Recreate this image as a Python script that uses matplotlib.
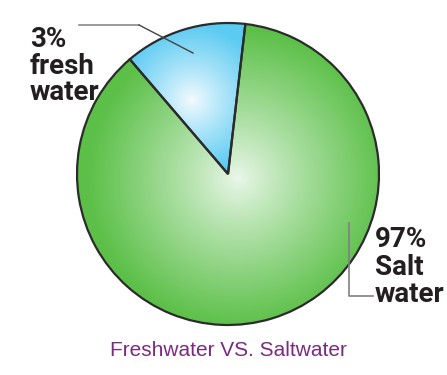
import numpy as np
import matplotlib
matplotlib.use("Agg")
import matplotlib.pyplot as plt
from matplotlib.colors import LinearSegmentedColormap

# Data (wedge sizes; labels as printed)
categories = ["fresh water", "Salt water"]
shares = [13.1, 86.9]
label_texts = [["3%", "fresh", "water"], ["97%", "Salt", "water"]]
title = "Freshwater VS. Saltwater"

W, H = 447, 375
fig = plt.figure(figsize=(W / 100, H / 100), dpi=100)
ax = fig.add_axes([0, 0, 1, 1])

cx, cy, R = 228, 375 - 174, 151
wedges, _ = ax.pie(shares, startangle=83.4, counterclock=True, center=(cx, cy),
                   radius=R, colors=["none", "none"], frame=True,
                   wedgeprops=dict(edgecolor="#2b2b2b", linewidth=1.6))
ax.set_xlim(0, W)
ax.set_ylim(0, H)
ax.set_aspect("auto")
ax.axis("off")

def radial(wedge, gx, gy, inner, outer, reach):
    yy, xx = np.mgrid[0:H, 0:W]
    d = np.hypot(xx + 0.5 - gx, yy + 0.5 - gy) / reach
    d = np.clip(d, 0, 1) ** 0.9
    cmap = LinearSegmentedColormap.from_list("g", [inner, outer])
    im = ax.imshow(d, cmap=cmap, extent=(0, W, 0, H), origin="lower",
                   vmin=0, vmax=1, zorder=0.5, interpolation="bilinear")
    im.set_clip_path(wedge)

radial(wedges[1], 238, 375 - 178, "#eaf7ea", "#5cc048", 150)
radial(wedges[0], 192, 375 - 100, "#f4fbff", "#5ccbf2", 75)
for w in wedges:
    w.set_zorder(1)

# leader lines
ax.plot([79, 139], [350, 350], color="#8a8a8a", lw=1.2, zorder=2)
ax.plot([139, 193], [350, 322], color="#444444", lw=1.0, zorder=2)
ax.plot([349, 349, 373], [152, 79, 79], color="#808080", lw=1.2, zorder=2)

# labels
for lines, x, baselines in [(label_texts[0], 30, [47, 74, 100]),
                            (label_texts[1], 375, [247, 275, 302])]:
    for t, b in zip(lines, baselines):
        ax.text(x, 375 - b, t, color="#231f20", ha="left", va="baseline",
                zorder=3, fontsize=20, fontweight="bold", family="Roboto")

ax.text(228, 375 - 351, title, fontsize=15, family="Liberation Sans",
        color="#7b2a80", ha="center", va="center", zorder=3)

fig.savefig("out.png", dpi=100)
